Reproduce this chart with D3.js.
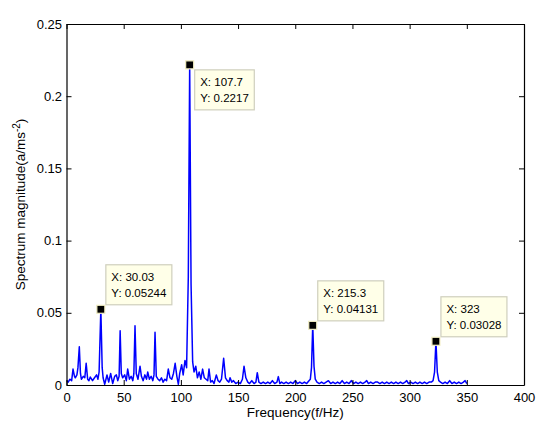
<!DOCTYPE html>
<html>
<head>
<meta charset="utf-8">
<script src="https://cdn.jsdelivr.net/npm/d3@7"></script>
<style>
    body { margin: 0; background: #fff; }
    svg { display: block; font-family: Arial, "Liberation Sans", sans-serif; }
    .tick text { font-size: 13px; fill: #000; }
    .tick line, .domain { stroke: #000; }
</style>
</head>
<body>
<svg width="550" height="437"></svg>
<script>
// spectrum (frequency in Hz, magnitude in a/ms^-2)
const freqHz = [
    0, 1.5, 3, 4.5, 5.7, 7, 7.7, 9.1, 10, 11.2,
    12.2, 13, 14.7, 16, 17.2, 18.5, 19.6, 20.8, 22, 22.8,
    24.5, 26.3, 27.5, 28.5, 30.03, 31.2, 32, 33.4, 34.5, 35.4,
    36.9, 38.6, 40.4, 42.1, 43.6, 44.8, 46, 46.9, 47.9, 49.1,
    50.9, 52.3, 53.5, 55, 56.5, 58, 58.9, 59.9, 61, 62.5,
    64.3, 65.5, 67, 68.5, 70, 71, 72.5, 74, 75.5, 76.5,
    77.4, 78.5, 80, 81.5, 83, 84.5, 86, 87.5, 89, 90.5,
    92, 93.5, 95, 96.5, 97.8, 99, 100.7, 102, 103.6, 105,
    106.5, 107.7, 108.9, 110.3, 111.5, 113, 114.5, 116, 117.5, 119,
    120.5, 122, 123.5, 124.6, 126, 127.5, 129, 131, 132.5, 134,
    135.5, 137.4, 139, 140.5, 142, 143, 144.5, 146, 148, 150,
    152, 153.8, 155.2, 156.8, 158.5, 160, 162, 164, 165.6, 166.8,
    168.2, 170, 172, 174, 176, 178, 180, 182, 184, 185.2,
    186.5, 188, 190, 192, 194, 196, 198, 200, 202, 204,
    206, 208, 210, 212, 213.2, 214.2, 215.3, 216.4, 217.5, 219,
    221, 223, 225, 227, 229, 231, 233, 235, 237, 239,
    241, 243, 245, 247, 249, 251, 253, 255, 257, 259,
    261, 262.5, 264, 266, 268, 270, 272, 274, 276, 278,
    280, 282, 284, 286, 288, 290, 292, 294, 296, 297.5,
    299, 301, 303, 305, 307, 309, 311, 313, 315, 317,
    319, 320.5, 321.8, 323, 324.2, 325.5, 327, 329, 331, 333,
    335, 337, 339, 341, 343, 345, 347, 348.5, 350
];
const magnitude = [
    0.003, 0.002, 0.004, 0.003, 0.011, 0.006, 0.005, 0.007, 0.012, 0.0265,
    0.008, 0.004, 0.006, 0.005, 0.015, 0.004, 0.003, 0.0055, 0.004, 0.003,
    0.005, 0.007, 0.004, 0.009, 0.05244, 0.012, 0.005, 0.0005, 0.004, 0.007,
    0.002, 0.008, 0.001, 0.006, 0.007, 0.003, 0.006, 0.0376, 0.008, 0.005,
    0.007, 0.003, 0.011, 0.004, 0.006, 0.003, 0.008, 0.041, 0.008, 0.004,
    0.013, 0.006, 0.003, 0.007, 0.004, 0.009, 0.004, 0.006, 0.003, 0.007,
    0.0365, 0.006, 0.004, 0.003, 0.005, 0.002, 0.004, 0.003, 0.011, 0.005,
    0.004, 0.008, 0.015, 0.006, 0.0005, 0.008, 0.014, 0.007, 0.017, 0.012,
    0.075, 0.2217, 0.07, 0.016, 0.009, 0.013, 0.005, 0.009, 0.004, 0.011,
    0.005, 0.004, 0.003, 0.011, 0.002, 0.003, 0.001, 0.007, 0.003, 0.002,
    0.004, 0.0185, 0.005, 0.003, 0.002, 0.005, 0.002, 0.003, 0.001, 0.002,
    0.001, 0.004, 0.013, 0.005, 0.002, 0.001, 0.003, 0.001, 0.002, 0.0085,
    0.002, 0.001, 0.002, 0.001, 0.002, 0.001, 0.003, 0.001, 0.002, 0.0058,
    0.001, 0.002, 0.001, 0.002, 0.001, 0.002, 0.001, 0.003, 0.001, 0.002,
    0.001, 0.002, 0.001, 0.003, 0.004, 0.012, 0.04131, 0.013, 0.004, 0.002,
    0.001, 0.002, 0.001, 0.002, 0.003, 0.001, 0.002, 0.001, 0.002, 0.001,
    0.003, 0.001, 0.002, 0.001, 0.003, 0.001, 0.002, 0.001, 0.002, 0.001,
    0.002, 0.003, 0.001, 0.002, 0.001, 0.002, 0.002, 0.001, 0.002, 0.001,
    0.002, 0.001, 0.002, 0.001, 0.002, 0.001, 0.002, 0.001, 0.002, 0.003,
    0.001, 0.002, 0.001, 0.002, 0.001, 0.002, 0.001, 0.002, 0.001, 0.002,
    0.002, 0.003, 0.009, 0.03028, 0.009, 0.003, 0.002, 0.001, 0.002, 0.001,
    0.003, 0.001, 0.002, 0.001, 0.002, 0.001, 0.002, 0.003, 0.001
];

// data tips
const tipX = [107.7, 30.03, 215.3, 323];
const tipY = [0.2217, 0.05244, 0.04131, 0.03028];
const tipXLabel = ["107.7", "30.03", "215.3", "323"];
const tipYLabel = ["0.2217", "0.05244", "0.04131", "0.03028"];

const xTicks = [0, 50, 100, 150, 200, 250, 300, 350, 400];
const yTicks = [0, 0.05, 0.1, 0.15, 0.2, 0.25];
const yTickLabels = ["0", "0.05", "0.1", "0.15", "0.2", "0.25"];

const svg = d3.select("svg");
const margin = { left: 66.5, right: 26, top: 24, bottom: 52 };
const width = +svg.attr("width");
const height = +svg.attr("height");
const innerW = width - margin.left - margin.right;
const innerH = height - margin.top - margin.bottom;

const x = d3.scaleLinear().domain([0, 400]).range([0, innerW]);
const y = d3.scaleLinear().domain([0, 0.25]).range([innerH, 0]);

const g = svg.append("g").attr("transform", `translate(${margin.left},${margin.top})`);

g.append("clipPath").attr("id", "plot-clip")
    .append("rect").attr("width", innerW).attr("height", innerH);

// spectrum line
const points = freqHz.map((f, i) => ({ f, v: magnitude[i] }));
const line = d3.line().x(d => x(d.f)).y(d => y(d.v));
g.append("path")
    .datum(points)
    .attr("clip-path", "url(#plot-clip)")
    .attr("fill", "none")
    .attr("stroke", "#0000ff")
    .attr("stroke-width", 1.5)
    .attr("stroke-linejoin", "round")
    .attr("d", line);

// axes, MATLAB style: ticks inside, box all round
g.append("g")
    .attr("transform", `translate(0,${innerH})`)
    .call(d3.axisBottom(x).tickValues(xTicks).tickSize(-5).tickSizeOuter(0).tickPadding(7.5));
g.append("g")
    .call(d3.axisLeft(y).tickValues(yTicks).tickFormat((d, i) => yTickLabels[i])
        .tickSize(-5).tickSizeOuter(0).tickPadding(4.5));
g.append("g")
    .call(d3.axisTop(x).tickValues(xTicks).tickFormat("").tickSize(-5).tickSizeOuter(0));
g.append("g")
    .attr("transform", `translate(${innerW},0)`)
    .call(d3.axisRight(y).tickValues(yTicks).tickFormat("").tickSize(-5).tickSizeOuter(0));
g.selectAll(".tick line").attr("stroke-width", 1);
g.selectAll(".domain").attr("stroke-width", 1.2);

// data tips: marker + yellow box
const tipBelow = [true, false, false, false];
const tips = g.selectAll(".tip").data(tipX).enter().append("g").attr("class", "tip");

tips.each(function (d, i) {
    const t = d3.select(this);
    const mx = x(d), my = y(tipY[i]);
    const box = t.append("rect");
    const l1 = t.append("text").text(`X: ${tipXLabel[i]}`);
    const l2 = t.append("text").text(`Y: ${tipYLabel[i]}`);
    t.selectAll("text").attr("font-size", 11.5).attr("fill", "#000");
    const tw = Math.max(l1.node().getComputedTextLength(), l2.node().getComputedTextLength());
    const bw = tw + 11, bh = 40;
    const bx = mx + 5;
    const by = tipBelow[i] ? my + 5 : my - 4.5 - bh;
    box.attr("x", bx).attr("y", by).attr("width", bw).attr("height", bh)
        .attr("fill", "#ffffe8").attr("stroke", "#cfcfbd").attr("stroke-width", 1.2);
    l1.attr("x", bx + 5.5).attr("y", by + 16.5);
    l2.attr("x", bx + 5.5).attr("y", by + 32);
    t.append("rect")
        .attr("x", mx - 4).attr("y", my - 4).attr("width", 8).attr("height", 8)
        .attr("fill", "#000").attr("stroke", "#f3efc4").attr("stroke-width", 1.2);
});

// axis titles
svg.append("text")
    .attr("x", margin.left + innerW / 2)
    .attr("y", 417)
    .attr("text-anchor", "middle")
    .attr("font-size", 13.5)
    .text("Frequency(f/Hz)");

const yl = svg.append("text")
    .attr("transform", `translate(25,${margin.top + innerH / 2}) rotate(-90)`)
    .attr("text-anchor", "middle")
    .attr("font-size", 13.5);
yl.append("tspan").text("Spectrum magnitude(a/ms");
yl.append("tspan").attr("dy", -5).attr("font-size", 10).text("-2");
yl.append("tspan").attr("dy", 5).text(")");
</script>
</body>
</html>
